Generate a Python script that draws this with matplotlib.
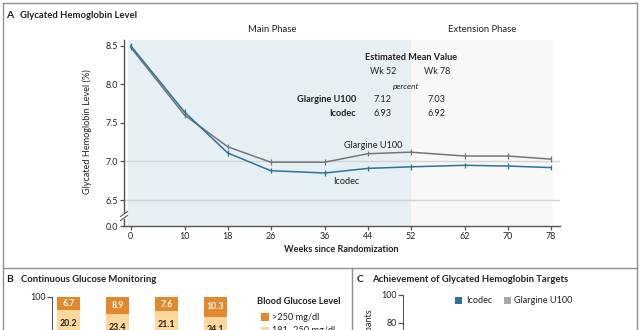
import matplotlib
matplotlib.use("Agg")
import matplotlib.pyplot as plt
from matplotlib.lines import Line2D
from matplotlib.patches import Rectangle

plt.rcParams['font.family'] = ['Lato', 'DejaVu Sans']

# ---------------- data ----------------
weeks = [0, 10, 18, 26, 36, 44, 52, 62, 70, 78]
glargine = [8.48, 7.60, 7.19, 6.99, 6.99, 7.10, 7.12, 7.07, 7.07, 7.03]
icodec = [8.50, 7.64, 7.11, 6.88, 6.85, 6.91, 6.93, 6.95, 6.94, 6.92]
hba1c_err = 0.035
table_weeks = [52, 78]

a_yticks = [6.5, 7.0, 7.5, 8.0, 8.5]
a_break_label = "0.0"

cgm_high = [6.7, 8.9, 7.6, 10.3]      # >250 mg/dl
cgm_mid = [20.2, 23.4, 21.1, 24.1]    # 181-250 mg/dl

c_yticks = [0, 20, 40, 60, 80, 100]

# ---------------- styling ----------------
W, H = 640, 330
C_ICO = "#2b7592"
C_GLA = "#75767a"
C_MAIN = "#e5eff4"
C_EXT = "#f8f8f8"
C_HIGH = "#e3892c"
C_MID = "#fdd89c"
C_FRAME = "#8f8f8f"
C_AX = "#555555"
TXT = "#231f20"

fig = plt.figure(figsize=(W / 100, H / 100), dpi=100)


def fx(x):
    return x / W


def fy(y):
    return 1 - y / H


def rect(l, t, r, b):
    return [fx(l), fy(b), fx(r) - fx(l), fy(t) - fy(b)]


def ftext(x, y, s, **kw):
    kw.setdefault("color", TXT)
    kw.setdefault("fontsize", 6.5)
    kw.setdefault("va", "center")
    fig.text(fx(x), fy(y), s, **kw)


def fline(xs, ys, **kw):
    fig.add_artist(Line2D([fx(v) for v in xs], [fy(v) for v in ys],
                          transform=fig.transFigure, **kw))


# panel frames
frame_kw = dict(color=C_FRAME, lw=1.0)
fline([3, 637], [3, 3], **frame_kw)
fline([3, 3], [3, 330], **frame_kw)
fline([637, 637], [3, 330], **frame_kw)
fline([3, 637], [268, 268], **frame_kw)
fline([352, 352], [268, 330], **frame_kw)

# ---------------- panel A ----------------
y_floor = 6.163
axA = fig.add_axes(rect(124, 40, 560, 226))
axA.set_xlim(-1.24, 79.67)
axA.set_ylim(y_floor, 8.574)
axA.axvspan(-0.5, 52, color=C_MAIN, lw=0, zorder=0)
axA.axvspan(52, 78.3, color=C_EXT, lw=0, zorder=0)
for g in (6.5, 7.0):
    axA.axhline(g, color="#d4d4d4", lw=1.0, zorder=1)

axA.errorbar(weeks, glargine, yerr=hba1c_err, color=C_GLA, lw=1.1,
             elinewidth=0.9, capsize=0, zorder=3)
axA.errorbar(weeks, icodec, yerr=hba1c_err, color=C_ICO, lw=1.1,
             elinewidth=0.9, capsize=0, zorder=4)

for s in ("top", "right"):
    axA.spines[s].set_visible(False)
for s in ("left", "bottom"):
    axA.spines[s].set_color(C_AX)
    axA.spines[s].set_linewidth(1.0)
axA.set_xticks(weeks)
axA.set_xticklabels([str(w) for w in weeks])
axA.set_yticks([y_floor] + a_yticks)
axA.set_yticklabels([a_break_label] + [f"{v:.1f}" for v in a_yticks])
axA.tick_params(axis="both", length=3, width=0.9, color=C_AX,
                labelsize=6.4, labelcolor=TXT, pad=1.5)
axA.set_facecolor("none")

# axis break on the y axis
fig.add_artist(Rectangle((fx(121), fy(218.5)), fx(6), fy(214) - fy(218.5),
                         transform=fig.transFigure, color="white", lw=0,
                         zorder=10))
fline([120.5, 127.5], [216.5, 211.5], color=C_AX, lw=0.8, zorder=11)
fline([120.5, 127.5], [220.5, 215.5], color=C_AX, lw=0.8, zorder=11)

ftext(6, 15, "A", fontsize=7.5, fontweight="bold")
ftext(20, 15, "Glycated Hemoglobin Level", fontsize=6.8, fontweight="bold")
ftext(272, 29, "Main Phase", fontsize=6.8, ha="center")
ftext(482, 29, "Extension Phase", fontsize=6.8, ha="center")
ftext(341, 250, "Weeks since Randomization", fontsize=6.6,
      fontweight="bold", ha="center")
ftext(87, 132, "Glycated Hemoglobin Level (%)", fontsize=6.6,
      ha="center", rotation=90)

ftext(373, 145, "Glargine U100", fontsize=6.6, ha="center")
ftext(346, 182, "Icodec", fontsize=6.6, ha="center")

# estimated-mean table
ftext(411, 57, "Estimated Mean Value", fontsize=6.6, fontweight="bold",
      ha="center")
col_x = [383, 437]
for cx, wk in zip(col_x, table_weeks):
    ftext(cx, 72, f"Wk {wk}", fontsize=6.4, ha="center")
ftext(406, 87, "percent", fontsize=6.0, style="italic", ha="center")
ftext(356, 100, "Glargine U100", fontsize=6.6, fontweight="bold", ha="right")
ftext(356, 113, "Icodec", fontsize=6.6, fontweight="bold", ha="right")
for cx, wk in zip(col_x, table_weeks):
    i = weeks.index(wk)
    ftext(cx, 100, f"{glargine[i]:.2f}", fontsize=6.6, ha="center")
    ftext(cx, 113, f"{icodec[i]:.2f}", fontsize=6.6, ha="center")

# ---------------- panel B ----------------
axB = fig.add_axes(rect(52, 297, 245, 487))
axB.set_xlim(-0.34, 3.6)
axB.set_ylim(0, 100)
xb = list(range(len(cgm_high)))
mid_bottom = [100 - h - m for h, m in zip(cgm_high, cgm_mid)]
high_bottom = [100 - h for h in cgm_high]
axB.bar(xb, cgm_mid, bottom=mid_bottom, width=0.475, color=C_MID, lw=0)
axB.bar(xb, cgm_high, bottom=high_bottom, width=0.475, color=C_HIGH, lw=0)
for x, h, m in zip(xb, cgm_high, cgm_mid):
    axB.text(x, 100 - h / 2, f"{h:.1f}", ha="center", va="center",
             fontsize=6.3, color="white", fontweight="bold")
    axB.text(x, 100 - h - 7, f"{m:.1f}", ha="center", va="center",
             fontsize=6.3, color=TXT, fontweight="bold")
for s in ("top", "right", "bottom"):
    axB.spines[s].set_visible(False)
axB.spines["left"].set_color(C_AX)
axB.set_xticks([])
axB.set_yticks([100])
axB.tick_params(axis="y", length=3.5, width=0.9, color=C_AX, labelsize=6.4,
                labelcolor=TXT, pad=1)

ftext(6, 280, "B", fontsize=7.5, fontweight="bold")
ftext(21, 280, "Continuous Glucose Monitoring", fontsize=6.8,
      fontweight="bold")
ftext(257, 302, "Blood Glucose Level", fontsize=6.7, fontweight="bold")
fig.add_artist(Rectangle((fx(261), fy(321)), fx(8), fy(313) - fy(321),
                         transform=fig.transFigure, color=C_HIGH, lw=0))
ftext(272, 317, ">250 mg/dl", fontsize=6.6)
fig.add_artist(Rectangle((fx(261), fy(335)), fx(8), fy(327) - fy(335),
                         transform=fig.transFigure, color=C_MID, lw=0))
ftext(272, 331, "181\u2013250 mg/dl", fontsize=6.6)

# ---------------- panel C ----------------
axC = fig.add_axes(rect(403, 295, 630, 433.5))
axC.set_ylim(0, 100)
axC.set_xlim(0, 1)
for s in ("top", "right", "bottom"):
    axC.spines[s].set_visible(False)
axC.spines["left"].set_color(C_AX)
axC.set_xticks([])
axC.set_yticks(c_yticks)
axC.tick_params(axis="y", length=3.5, width=0.9, color=C_AX, labelsize=6.4,
                labelcolor=TXT, pad=1)
axC.set_facecolor("none")

ftext(357, 280, "C", fontsize=7.5, fontweight="bold")
ftext(372, 280, "Achievement of Glycated Hemoglobin Targets", fontsize=6.8,
      fontweight="bold")
fig.text(fx(370), fy(309), "Percentage of Participants", fontsize=6.6,
         color=TXT, rotation=90, ha="center", va="top")
fig.add_artist(Rectangle((fx(455), fy(304)), fx(7), fy(297) - fy(304),
                         transform=fig.transFigure, color=C_ICO, lw=0))
ftext(466, 300.5, "Icodec", fontsize=6.6)
fig.add_artist(Rectangle((fx(504), fy(304)), fx(7), fy(297) - fy(304),
                         transform=fig.transFigure, color="#a8a8a8", lw=0))
ftext(514, 300.5, "Glargine U100", fontsize=6.6)

fig.savefig("out.png", dpi=100)
